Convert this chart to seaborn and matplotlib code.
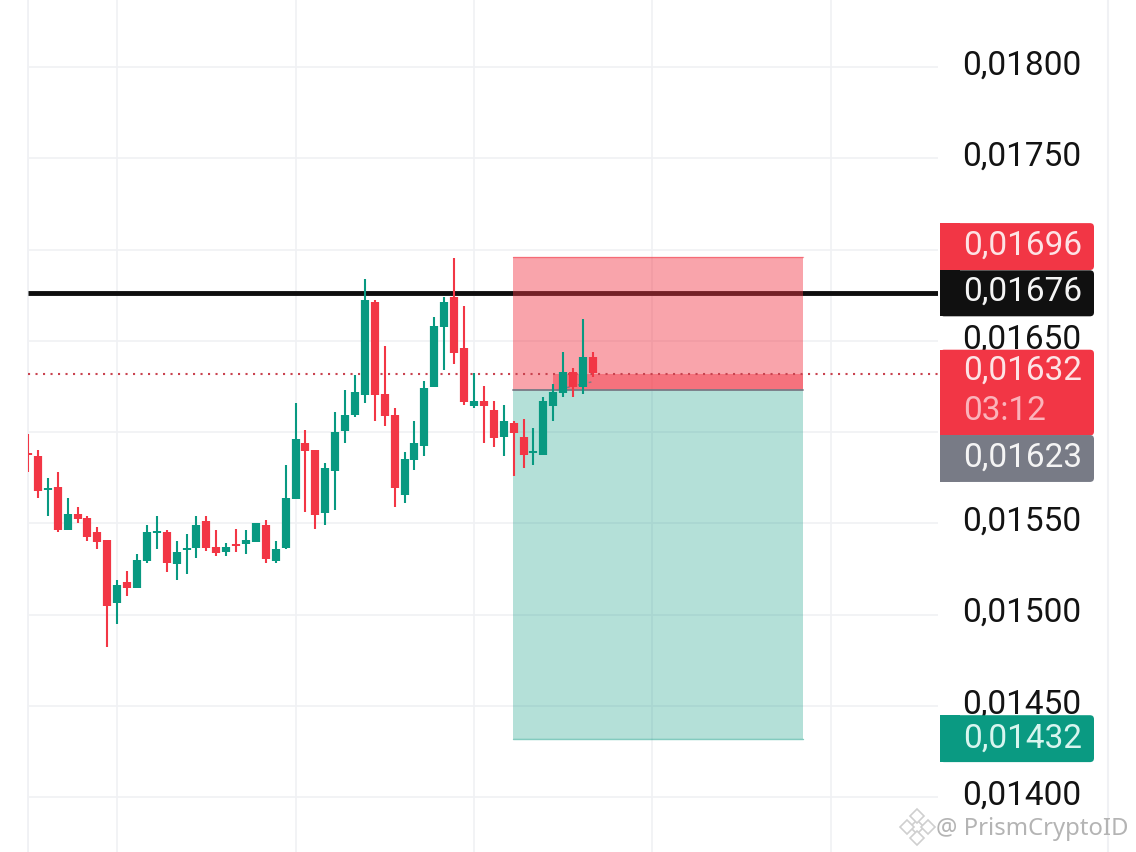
import pandas as pd
import seaborn as sns
import matplotlib.pyplot as plt
from matplotlib.patches import FancyBboxPatch, Rectangle
from matplotlib.transforms import ScaledTranslation

# prices are in units of 0.00001
highs = [1598.9, 1590.1, 1574.8, 1578.1, 1563.8, 1558.9, 1554.0, 1547.9, 1540.8, 1518.9,
         1523.8, 1533.1, 1549.0, 1554.0, 1546.3, 1540.3, 1544.1, 1554.0, 1554.0, 1546.3,
         1539.2, 1546.8, 1546.3, 1550.1, 1551.8, 1540.3, 1581.9, 1615.9, 1601.1, 1590.1,
         1583.0, 1610.9, 1623.0, 1631.2, 1683.8, 1672.3, 1647.1, 1613.1, 1589.0, 1606.0,
         1627.9, 1663.0, 1674.0, 1695.3, 1669.0, 1632.3, 1625.2, 1617.0, 1614.8, 1606.0,
         1607.1, 1602.2, 1619.2, 1626.3, 1643.8, 1635.0, 1661.9, 1643.8]
opens = [1588.5, 1586.8, 1568.2, 1569.8, 1546.3, 1555.1, 1552.9, 1545.2, 1540.8, 1506.3,
         1517.8, 1514.5, 1529.3, 1544.6, 1545.2, 1527.6, 1535.3, 1536.4, 1551.2, 1537.0,
         1534.2, 1538.6, 1538.6, 1539.7, 1549.0, 1529.3, 1536.4, 1563.3, 1594.0, 1590.1,
         1555.6, 1578.6, 1600.5, 1609.3, 1620.2, 1671.2, 1620.8, 1609.3, 1565.4, 1584.6,
         1592.3, 1624.6, 1657.5, 1674.0, 1646.0, 1614.2, 1617.0, 1612.0, 1597.2, 1604.9,
         1597.2, 1588.5, 1587.4, 1614.2, 1621.3, 1632.9, 1624.6, 1641.1]
closes = [1587.4, 1567.7, 1569.3, 1546.3, 1555.1, 1552.3, 1542.4, 1539.7, 1504.6, 1516.1,
          1514.5, 1529.8, 1545.2, 1545.7, 1528.2, 1534.2, 1536.4, 1549.0, 1536.4, 1533.7,
          1537.0, 1537.5, 1540.8, 1550.1, 1530.4, 1535.9, 1563.8, 1596.1, 1589.6, 1554.5,
          1580.3, 1600.0, 1609.3, 1621.9, 1672.3, 1620.2, 1608.7, 1569.3, 1585.2, 1594.0,
          1624.1, 1658.0, 1671.2, 1643.3, 1616.4, 1617.0, 1614.2, 1596.7, 1606.0, 1599.4,
          1587.4, 1589.6, 1617.0, 1621.9, 1632.9, 1624.6, 1641.1, 1632.3]
lows = [1578.1, 1563.8, 1554.0, 1545.2, 1546.3, 1550.1, 1540.3, 1535.9, 1482.2, 1494.8,
        1510.1, 1514.5, 1528.2, 1535.9, 1523.3, 1518.9, 1522.2, 1530.9, 1534.8, 1532.0,
        1532.0, 1534.2, 1533.1, 1539.7, 1528.2, 1528.2, 1535.9, 1563.3, 1556.1, 1546.8,
        1549.0, 1557.2, 1594.0, 1608.2, 1615.9, 1606.0, 1603.3, 1558.9, 1561.1, 1579.2,
        1586.8, 1624.6, 1633.9, 1637.2, 1614.8, 1613.1, 1594.0, 1591.8, 1586.8, 1575.9,
        1580.3, 1581.9, 1587.4, 1606.0, 1619.2, 1619.2, 1620.8, 1630.1]

# 0,01600 and 0,01700 sit behind the badges, so they stay blank
tick_values = [1400, 1450, 1500, 1550, 1600, 1650, 1700, 1750, 1800]
tick_labels = ["0,01400", "0,01450", "0,01500", "0,01550", "",
               "0,01650", "", "0,01750", "0,01800"]
time_grid = [0, 9, 27, 45, 63, 81]

resistance = 1676
stop_price = 1696
entry_price = 1623
target_price = 1432
last_price = 1632
zone_start = 48.94
zone_end = 78.2
pnl_start = 53.0
trail_x = [53.3, 56.9]
trail_y = [1623, 1627.5]

RED = "#f23645"
GREEN = "#089981"
GRID = "#f0f1f4"
INK = "#131313"
LABEL_SIZE = 24

# figure is 1136x852, one candle is 9.91 px and one price unit 1.825 px
PX_PER_CANDLE = 9.91
PX_PER_UNIT = 1.825
Y_LIMS = (1369.9, 1836.7)

sns.set_theme(style="white")
plt.rcParams["font.family"] = ["Roboto", "DejaVu Sans"]

fig = plt.figure(figsize=(11.36, 8.52), dpi=100, facecolor="white")
ax = fig.add_axes([28 / 1136, 0, 910 / 1136, 1])
ax.set_xlim(0, 910 / PX_PER_CANDLE)
ax.set_ylim(*Y_LIMS)

ax.set_xticks(time_grid)
ax.set_xticklabels([])
ax.set_yticks(tick_values)
ax.set_yticklabels(tick_labels, fontsize=LABEL_SIZE, color=INK)
ax.yaxis.tick_right()
ax.tick_params(axis="both", length=0)
ax.tick_params(axis="y", pad=17.4)
shift_up = ScaledTranslation(0, 5 / 100, fig.dpi_scale_trans)
for lbl in ax.get_yticklabels():
    lbl.set_transform(lbl.get_transform() + shift_up)
ax.grid(True, color=GRID, linewidth=1.2, zorder=0)
ax.set_axisbelow(True)
sns.despine(ax=ax, left=True, right=True, top=True, bottom=True)
ax.axvline(0, color=GRID, linewidth=1.3, zorder=0, clip_on=False)

# level line and the long position tool
ax.axhline(resistance, color="#0e0e0e", linewidth=3.5, zorder=1, solid_capstyle="butt")
ax.fill_between([zone_start, zone_end], entry_price, stop_price, color=RED, alpha=0.45,
                linewidth=0, zorder=2)
ax.fill_between([zone_start, zone_end], target_price, entry_price, color=GREEN, alpha=0.3,
                linewidth=0, zorder=2)
ax.fill_between([pnl_start, zone_end], entry_price, last_price, color=RED, alpha=0.45,
                linewidth=0, zorder=2)
ax.plot([zone_start, zone_end], [stop_price] * 2, color=RED, alpha=0.5, lw=1, zorder=2.1)
ax.plot([zone_start, zone_end], [entry_price] * 2, color="#787b86", lw=1.3, zorder=2.1)
ax.plot([zone_start, zone_end], [target_price] * 2, color=GREEN, alpha=0.5, lw=1, zorder=2.1)
ax.plot(trail_x, trail_y, color="#787b86", lw=1, linestyle=(0, (2, 2)), zorder=2.2)
ax.axhline(last_price, color="#c9434f", linewidth=1.5, linestyle=(0, (1, 2.6)), zorder=3)

candles = pd.DataFrame({"high": highs, "open": opens, "close": closes, "low": lows})
candles["candle"] = candles.index
candles["side"] = ["up" if c >= o else "down" for o, c in zip(opens, closes)]
palette = {"up": GREEN, "down": RED}

wicks = candles.melt(id_vars=["candle", "side"], value_vars=["high", "low"], value_name="price")
bodies = candles.melt(id_vars=["candle", "side"], value_vars=["open", "close"], value_name="price")
sns.lineplot(data=wicks, x="candle", y="price", units="candle", hue="side", palette=palette,
             estimator=None, sort=False, legend=False, linewidth=1.5, zorder=4, ax=ax,
             solid_capstyle="butt")
sns.lineplot(data=bodies, x="candle", y="price", units="candle", hue="side", palette=palette,
             estimator=None, sort=False, legend=False, linewidth=5.9, zorder=4.1, ax=ax,
             solid_capstyle="butt")
ax.set_xlabel("")
ax.set_ylabel("")

# overlay: x in pixels, y in price, for the price badges and the watermark
ov = fig.add_axes([0, 0, 1, 1], zorder=5)
ov.set_xlim(0, 1136)
ov.set_ylim(*Y_LIMS)
ov.axis("off")
ov.patch.set_alpha(0)
ov.axvline(1108, color=GRID, linewidth=1.5, zorder=0)


def badge(center, height, colour, lines):
    bottom = center - height / 2
    ov.add_patch(FancyBboxPatch((940, bottom), 154, height, mutation_aspect=1 / PX_PER_UNIT,
                                boxstyle="round,pad=0,rounding_size=4", fc=colour, ec="none", zorder=2))
    ov.add_patch(Rectangle((940, bottom), 20, height, fc=colour, ec="none", zorder=2))
    for text, offset, text_colour in lines:
        ov.text(963, center + offset, text, fontsize=LABEL_SIZE, color=text_colour,
                ha="left", va="center", zorder=3)


badge(stop_price + 5.6, 25.7, RED, [("0,01696", 0.5, "#fde3e5")])
badge(resistance, 25.2, "#101010", [("0,01676", 1.0, "#f4f4f4")])
badge(last_price - 10.4, 47, RED, [("0,01632", 12.0, "#fde3e5"), ("03:12", -10.2, "#fbb3ba")])
badge(entry_price - 37.5, 25.7, "#787b86", [("0,01623", 0.5, "#f4f4f4")])
badge(target_price, 25.7, "#0a9a82", [("0,01432", 0.0, "#d8f5ef")])

# watermark
mark_y = 1383.6
mark_x = [917, 906.5, 927.5, 917, 917]
mark_dy = [0, 0, 0, 5.8, -5.8]
for mx, dy in zip(mark_x, mark_dy):
    ov.plot(mx, mark_y + dy, marker="D", ms=7, mfc="white", mec="#cfcfcf", mew=1.2, zorder=3)
ov.text(936, mark_y - 1.2, "@ PrismCryptoID", fontsize=17.2, color="#b4b4b4", ha="left", va="center",
        family=["Noto Sans", "DejaVu Sans"], zorder=3)

fig.savefig("out.png", dpi=100)
